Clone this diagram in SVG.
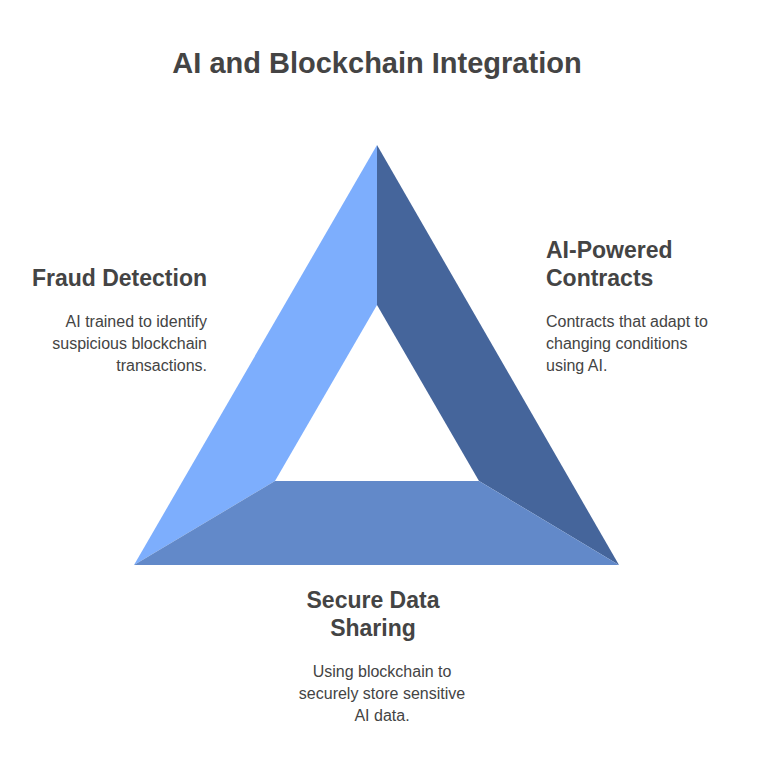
<svg xmlns="http://www.w3.org/2000/svg" width="768" height="782" viewBox="0 0 768 782">
<style>
text{font-family:"Liberation Sans",Arial,sans-serif;fill:#444}
.t{font-size:29px;font-weight:bold}
.h{font-size:23px;font-weight:bold}
.d{font-size:16px}
</style>
<rect width="768" height="782" fill="#fff"/>
<text class="t" x="377" y="73" text-anchor="middle">AI and Blockchain Integration</text>
<g id="fraud">
<polygon points="377,145 377,305 275,481 134,565" fill="#7DAEFD"/>
<text class="h" x="207" y="286" text-anchor="end">Fraud Detection</text>
<text class="d" text-anchor="end"><tspan x="207" y="327">AI trained to identify</tspan><tspan x="207" y="349">suspicious blockchain</tspan><tspan x="207" y="371">transactions.</tspan></text>
</g>
<g id="contracts">
<polygon points="377,145 619,565 479,481 377,305" fill="#45659B"/>
<text class="h" x="546" y="258">AI-Powered</text>
<text class="h" x="546" y="286">Contracts</text>
<text class="d"><tspan x="546" y="327">Contracts that adapt to</tspan><tspan x="546" y="349">changing conditions</tspan><tspan x="546" y="371">using AI.</tspan></text>
</g>
<g id="sharing">
<polygon points="134,565 619,565 479,481 275,481" fill="#6289C9"/>
<text class="h" x="373" y="608" text-anchor="middle">Secure Data</text>
<text class="h" x="373" y="636" text-anchor="middle">Sharing</text>
<text class="d" text-anchor="middle"><tspan x="382" y="677">Using blockchain to</tspan><tspan x="382" y="699">securely store sensitive</tspan><tspan x="382" y="721">AI data.</tspan></text>
</g>
<g id="connectors"/>
</svg>
